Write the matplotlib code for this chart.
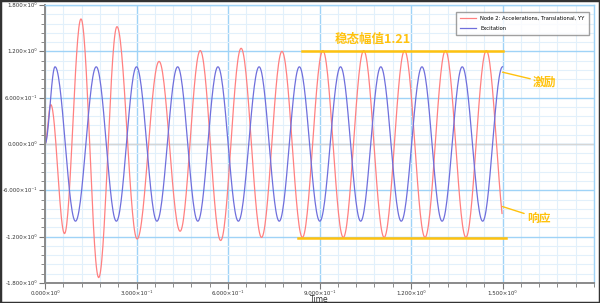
import numpy as np
import matplotlib.pyplot as plt
from matplotlib.ticker import MultipleLocator, FixedLocator, FixedFormatter
from matplotlib.patches import Rectangle

# turning points (time, value)
resp_t = [0.0, 0.019, 0.064, 0.118, 0.176, 0.236, 0.302, 0.374, 0.443, 0.509,
          0.576, 0.643, 0.710, 0.777, 0.844, 0.911, 0.978, 1.045, 1.112, 1.179,
          1.246, 1.313, 1.380, 1.447, 1.514]
resp_v = [0.0, 0.51, -1.16, 1.62, -1.73, 1.52, -1.23, 1.07, -1.13, 1.21,
          -1.25, 1.24, -1.21, 1.20, -1.21, 1.21, -1.21, 1.21, -1.21, 1.21,
          -1.21, 1.21, -1.21, 1.21, -1.21]

exc_t = [0.0, 0.033, 0.100, 0.168, 0.234, 0.300, 0.367, 0.435, 0.501, 0.567,
         0.634, 0.702, 0.768, 0.834, 0.901, 0.969, 1.035, 1.101, 1.168, 1.236,
         1.302, 1.368, 1.435, 1.500]
exc_v = [0.0, 1.0, -1.0, 1.0, -1.0, 1.0, -1.0, 1.0, -1.0, 1.0,
         -1.0, 1.0, -1.0, 1.0, -1.0, 1.0, -1.0, 1.0, -1.0, 1.0,
         -1.0, 1.0, -1.0, 1.0]

t_end = 1.5
steady_amp = 1.21
steady_low = -1.22

ytick_vals = [-1.8, -1.2, -0.6, 0.0, 0.6, 1.2, 1.8]
ytick_labels = ["-1.800×10⁰", "-1.200×10⁰", "-6.000×10⁻¹", "0.000×10⁰",
                "6.000×10⁻¹", "1.200×10⁰", "1.800×10⁰"]
xtick_vals = [0.0, 0.3, 0.6, 0.9, 1.2, 1.5]
xtick_labels = ["0.000×10⁰", "3.000×10⁻¹", "6.000×10⁻¹", "9.000×10⁻¹",
                "1.200×10⁰", "1.500×10⁰"]


def smooth_curve(tp, vp, n=30):
    # half-cosine arcs between successive turning points
    ts, vs = [], []
    for i in range(len(tp) - 1):
        s = np.linspace(0, 1, n, endpoint=False)
        ts.append(tp[i] + s * (tp[i + 1] - tp[i]))
        vs.append(vp[i] + (vp[i + 1] - vp[i]) * (1 - np.cos(np.pi * s)) / 2)
    ts.append([tp[-1]])
    vs.append([vp[-1]])
    ts = np.concatenate(ts)
    vs = np.concatenate(vs)
    keep = ts <= t_end + 1e-9
    return ts[keep], vs[keep]


fig = plt.figure(figsize=(6, 3.03), dpi=100)
ax = fig.add_axes([0.075, 0.066, 0.915, 0.9175])

major_c = "#9fd3f7"
minor_c = "#e2f0fb"
ax.set_xlim(0, 1.8)
ax.set_ylim(-1.8, 1.8)
ax.xaxis.set_major_locator(FixedLocator(xtick_vals))
ax.xaxis.set_major_formatter(FixedFormatter(xtick_labels))
ax.xaxis.set_minor_locator(MultipleLocator(0.06))
ax.yaxis.set_major_locator(FixedLocator(ytick_vals))
ax.yaxis.set_major_formatter(FixedFormatter(ytick_labels))
ax.yaxis.set_minor_locator(MultipleLocator(0.12))
ax.grid(which="minor", color=minor_c, lw=0.8)
ax.grid(which="major", color=major_c, lw=1.0)
ax.axhline(0, color="#d6d6d6", lw=1.0, zorder=1.5)
ax.set_axisbelow(True)
ax.tick_params(which="both", direction="out", color="#777777", labelsize=4,
               labelcolor="#333333", pad=1.5)
ax.tick_params(which="major", length=4, width=0.8)
ax.tick_params(which="minor", length=3, width=0.6)
for s in ["left", "bottom"]:
    ax.spines[s].set_color("#8a8a8a")
    ax.spines[s].set_linewidth(1.4)
for s in ["top", "right"]:
    ax.spines[s].set_color(major_c)
    ax.spines[s].set_linewidth(1.0)

rt, rv = smooth_curve(resp_t, resp_v)
et, ev = smooth_curve(exc_t, exc_v)
ax.plot(rt, rv, color="#ff8080", lw=0.9, label="Node 2: Accelerations, Translational, YY")
ax.plot(et, ev, color="#6f6fdc", lw=0.9, label="Excitation")

ax.set_xlabel("Time", fontsize=5.5, color="#333333")
ax.xaxis.set_label_coords(0.5, -0.043)

leg = ax.legend(loc="upper right", bbox_to_anchor=(0.995, 0.985), fontsize=3.8,
                frameon=True, fancybox=False, handlelength=3, borderpad=0.8,
                labelspacing=0.9)
leg.get_frame().set_edgecolor("#888888")
leg.get_frame().set_linewidth(1.0)

# annotations
gold = "#ffc20e"
cjk = ["Noto Sans CJK SC", "DejaVu Sans"]
ax.plot([0.843, t_end], [steady_amp, steady_amp], color=gold, lw=1.8)
ax.plot([0.828, 1.511], [steady_low, steady_low], color=gold, lw=1.8)
ax.text(1.075, 1.35, "稳态幅值1.21", family=cjk, fontweight="bold", fontsize=9,
        color=gold, ha="center", va="center")
ax.annotate("激励", xy=(1.5, 0.93), xytext=(1.6, 0.8), family=cjk, fontweight="bold",
            fontsize=8.5, color=gold, ha="left", va="center",
            arrowprops=dict(arrowstyle="-", color=gold, lw=1.0, shrinkA=0, shrinkB=0))
ax.annotate("响应", xy=(1.5, -0.81), xytext=(1.58, -0.96), family=cjk, fontweight="bold",
            fontsize=8.5, color=gold, ha="left", va="center",
            arrowprops=dict(arrowstyle="-", color=gold, lw=1.0, shrinkA=0, shrinkB=0))

fig.patches.append(Rectangle((0, 0), 1, 1, transform=fig.transFigure, fill=False,
                             edgecolor="#333333", lw=2.5))

fig.savefig("out.png", dpi=100)
